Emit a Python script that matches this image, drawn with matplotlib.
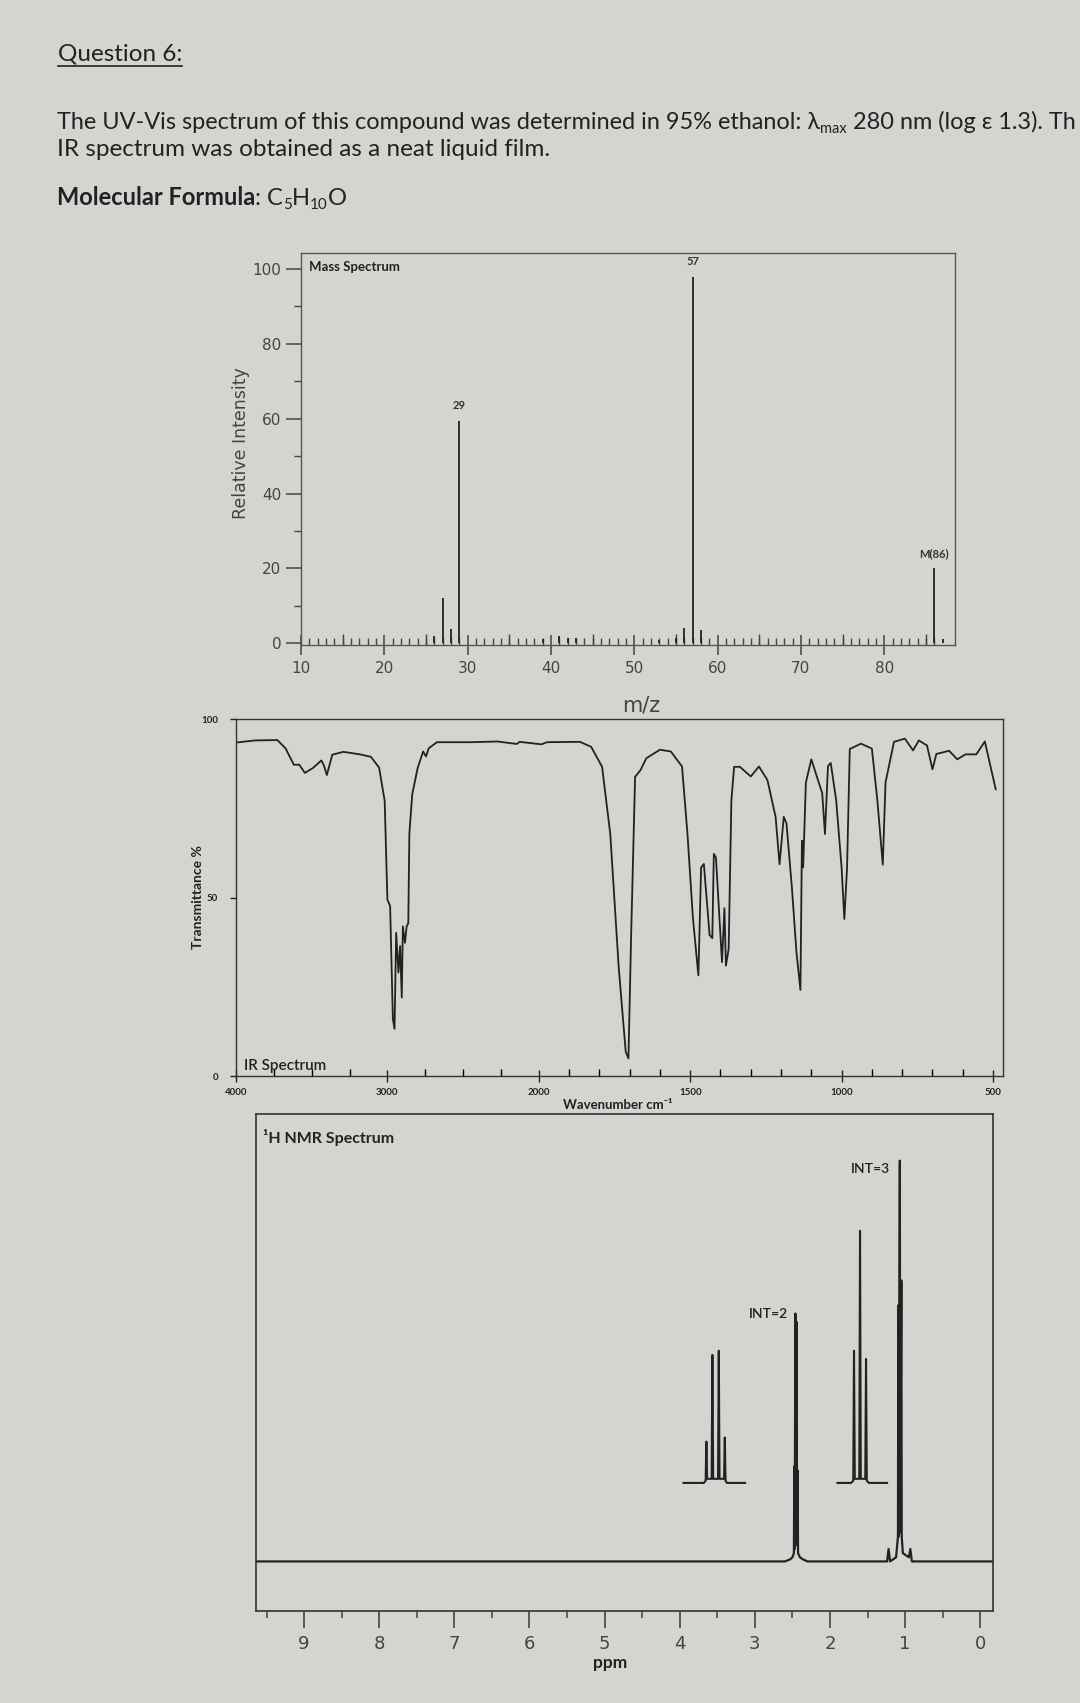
import numpy as np
import matplotlib
matplotlib.use('Agg')
import matplotlib.pyplot as plt
from matplotlib.lines import Line2D

plt.rcParams['font.family'] = ['Lato', 'DejaVu Sans']

W, H = 1080, 1703
paper = '#d6d4d1'
ink = '#222222'
grey = '#444444'

# mass spectrum (m/z, relative intensity)
ms_mz = [26, 27, 28, 29, 39, 41, 42, 43, 53, 55, 56, 57, 58, 86, 87]
ms_int = [1.9, 12.1, 3.7, 59.5, 1.2, 1.8, 1.5, 1.4, 0.8, 1.5, 4.0, 98, 3.6, 20, 1.2]
ms_lab_mz = [29, 57, 86]
ms_lab_txt = ['29', '57', 'M(86)']

# IR trace (wavenumber, %T)
ir_wn = [4000, 3873, 3727, 3673, 3618, 3582, 3545, 3491, 3436, 3418,
         3400, 3364, 3291, 3182, 3109, 3055, 3018, 3000, 2982, 2964,
         2953, 2942, 2927, 2916, 2905, 2898, 2884, 2873, 2862, 2855,
         2836, 2800, 2764, 2745, 2727, 2673, 2455, 2273, 2145, 2127,
         1991, 1973, 1864, 1827, 1791, 1764, 1736, 1713, 1704, 1695,
         1682, 1664, 1645, 1600, 1564, 1527, 1509, 1491, 1473, 1464,
         1455, 1445, 1436, 1427, 1422, 1415, 1404, 1395, 1387, 1382,
         1373, 1364, 1355, 1336, 1300, 1273, 1245, 1218, 1205, 1191,
         1182, 1164, 1149, 1136, 1131, 1127, 1118, 1100, 1064, 1055,
         1045, 1036, 1018, 1000, 991, 982, 973, 936, 900, 882,
         864, 855, 827, 791, 764, 745, 718, 700, 687, 645,
         618, 591, 555, 527, 509, 491]
ir_t = [93.4, 94.0, 94.1, 91.8, 87.2, 87.2, 84.9, 86.3, 88.4, 86.8,
        84.3, 90.0, 90.8, 90.1, 89.4, 86.4, 77.1, 49.4, 47.6, 16.0,
        13.2, 40.1, 29.0, 36.4, 22.0, 41.9, 37.3, 41.9, 42.8, 67.8,
        78.9, 86.3, 90.9, 89.5, 91.8, 93.5, 93.5, 93.7, 93.0, 93.6,
        92.9, 93.5, 93.6, 92.2, 86.6, 67.8, 30.3, 6.8, 4.9, 39.6,
        83.8, 85.7, 89.0, 91.4, 90.9, 86.7, 67.8, 44.2, 28.2, 58.4,
        59.4, 49.0, 39.5, 38.6, 62.2, 61.2, 45.1, 31.9, 47.0, 30.9,
        35.6, 77.2, 86.6, 86.6, 83.9, 86.7, 82.9, 72.6, 59.3, 72.6,
        70.7, 52.6, 34.6, 24.1, 65.9, 58.4, 82.2, 88.7, 79.2, 67.8,
        86.8, 87.7, 77.3, 58.3, 44.0, 58.3, 91.6, 93.1, 91.7, 77.3,
        59.2, 82.2, 93.6, 94.5, 91.2, 94.0, 92.6, 85.9, 90.2, 91.1,
        88.7, 90.1, 90.1, 93.7, 87.0, 80.3]
ir_major = [4000, 3000, 2000, 1500, 1000, 500]
ir_minor = [3750, 3500, 3250, 2750, 2500, 2250, 1900, 1800, 1700, 1600,
            1400, 1300, 1200, 1100, 900, 800, 700, 600]

# 1H NMR trace (ppm, intensity)
nmr_ppm = [9.64, 2.60, 2.53, 2.50, 2.48, 2.475, 2.47, 2.46, 2.455, 2.445,
           2.44, 2.43, 2.425, 2.40, 2.36, 2.30, 1.24, 1.22, 1.20, 1.12,
           1.095, 1.09, 1.085, 1.07, 1.065, 1.05, 1.045, 1.03, 0.95, 0.93,
           0.91, -0.17]
nmr_int = [0.0, 0.0, 0.005, 0.01, 0.02, 0.23, 0.03, 0.60, 0.05, 0.58,
           0.04, 0.22, 0.02, 0.01, 0.005, 0.0, 0.0, 0.03, 0.0, 0.01,
           0.06, 0.62, 0.06, 0.97, 0.07, 0.68, 0.06, 0.02, 0.01, 0.03,
           0.0, 0.0]
# expansions drawn above the baseline
q_ppm = [3.95, 3.68, 3.655, 3.645, 3.635, 3.575, 3.565, 3.555, 3.49, 3.48,
         3.47, 3.41, 3.40, 3.39, 3.37, 3.13]
q_int = [0.19, 0.19, 0.195, 0.29, 0.20, 0.20, 0.50, 0.20, 0.20, 0.51,
         0.20, 0.20, 0.30, 0.195, 0.19, 0.19]
t_ppm = [1.90, 1.72, 1.69, 1.68, 1.67, 1.61, 1.60, 1.59, 1.53, 1.52,
         1.51, 1.48, 1.24]
t_int = [0.19, 0.19, 0.195, 0.51, 0.20, 0.20, 0.80, 0.20, 0.20, 0.49,
         0.195, 0.19, 0.19]


def px_axes(left, top, right, bottom):
    a = fig.add_axes([left / W, 1 - bottom / H, (right - left) / W, (bottom - top) / H])
    a.set_facecolor('none')
    return a


def run_text(x, y, pieces):
    # writes pieces one after another on a common baseline (pixel coords)
    r = fig.canvas.get_renderer()
    for s, size, weight, dy in pieces:
        t = fig.text(x / W, 1 - (y + dy) / H, s, fontsize=size, fontweight=weight,
                     va='baseline', ha='left', color=ink)
        x += t.get_window_extent(renderer=r).width
    return x


fig = plt.figure(figsize=(W / 100, H / 100), dpi=100, facecolor=paper)

# ---- header text ----
x_end = run_text(58, 61, [('Question 6:', 17.5, 'normal', 0)])
fig.add_artist(Line2D([58 / W, x_end / W], [1 - 66 / H, 1 - 66 / H], color=ink, lw=1.2))
run_text(57, 129, [('The UV-Vis spectrum of this compound was determined in 95% ethanol: \u03bb', 16.9, 'normal', 0),
                   ('max', 10.5, 'normal', 4),
                   (' 280 nm (log \u03b5 1.3). Th', 16.9, 'normal', 0)])
run_text(57, 156, [('IR spectrum was obtained as a neat liquid film.', 17.5, 'normal', 0)])
run_text(57, 205, [('Molecular Formula', 17, 'bold', 0), (': C', 17, 'normal', 0),
                   ('5', 11, 'normal', 4), ('H', 17, 'normal', 0),
                   ('10', 11, 'normal', 4), ('O', 17, 'normal', 0)])

# ---- mass spectrum ----
ax1 = px_axes(301, 253, 955, 645)
ax1.vlines(ms_mz, 0, ms_int, color=ink, lw=1.3)
for m, s in zip(ms_lab_mz, ms_lab_txt):
    ax1.text(m, ms_int[ms_mz.index(m)] + 2.5, s, ha='center', va='bottom',
             fontsize=8, fontweight='bold', color='#333333')
ax1.set_xlim(10, 88.5)
ax1.set_ylim(-0.5, 104.3)
ax1.set_xticks(range(10, 90, 10))
ax1.set_xticks(range(10, 87), minor=True)
ax1.set_yticks(range(0, 120, 20))
ax1.set_yticks(range(10, 100, 20), minor=True)
ax1.tick_params(axis='x', which='major', direction='inout', length=15, width=1.1,
                labelsize=11, pad=4, colors=grey, labelfontfamily='DejaVu Sans')
ax1.tick_params(axis='x', which='minor', direction='in', length=5, width=1.0, colors=grey)
ax1.tick_params(axis='y', which='major', direction='out', length=11, width=1.1,
                labelsize=11, pad=3, colors=grey, labelfontfamily='DejaVu Sans')
ax1.tick_params(axis='y', which='minor', direction='out', length=5, width=1.0, colors=grey)
sec = ax1.secondary_xaxis('bottom')
sec.set_xticks(range(15, 90, 10))
sec.tick_params(direction='in', length=8, width=1.0, labelbottom=False, colors=grey)
for sp in sec.spines.values():
    sp.set_visible(False)
for sp in ax1.spines.values():
    sp.set_color('#555555')
    sp.set_linewidth(1.0)
ax1.text(0.012, 0.965, 'Mass Spectrum', transform=ax1.transAxes, fontsize=9.5,
         fontweight='bold', ha='left', va='center', color=ink)
ax1.text(-0.092, 0.515, 'Relative Intensity', transform=ax1.transAxes, rotation=90,
         fontsize=12.5, family='DejaVu Sans', color=grey, ha='center', va='center')
ax1.text(0.52, -0.155, 'm/z', transform=ax1.transAxes, fontsize=15,
         family='DejaVu Sans', color=grey, ha='center', va='center')


# ---- IR spectrum ----
def ir_fwd(w):
    w = np.asarray(w, dtype=float)
    return np.where(w >= 2000, -(4000 - w) / 1000, -(2 + (2000 - w) / 500))


def ir_inv(u):
    u = -np.asarray(u, dtype=float)
    return np.where(u <= 2, 4000 - 1000 * u, 2000 - 500 * (u - 2))


ax2 = px_axes(236, 719, 1003, 1076)
ax2.set_xscale('function', functions=(ir_fwd, ir_inv))
ax2.plot(ir_wn, ir_t, color=ink, lw=1.3)
ax2.set_xlim(4000, 467)
ax2.set_ylim(0, 100)
ax2.set_xticks(ir_major)
ax2.set_xticklabels([str(v) for v in ir_major])
ax2.set_xticks(ir_minor, minor=True)
ax2.set_yticks([0, 50, 100])
ax2.set_yticklabels(['0', '50', '100'])
ax2.tick_params(axis='x', which='major', direction='inout', length=9, width=1.0,
                labelsize=7, pad=4, colors=ink)
ax2.tick_params(axis='x', which='minor', direction='in', length=5, width=1.0)
ax2.tick_params(axis='y', direction='out', length=4, width=1.0, labelsize=7, pad=9, colors=ink)
for lab in ax2.get_xticklabels() + ax2.get_yticklabels():
    lab.set_fontweight('bold')
for sp in ax2.spines.values():
    sp.set_color('#333333')
    sp.set_linewidth(1.0)
ax2.text(0.0104, 0.008, 'IR Spectrum', transform=ax2.transAxes, fontsize=11,
         fontweight='semibold', ha='left', va='bottom', color=ink)
ax2.text(0.497, -0.08, 'Wavenumber cm\u207b\u00b9', transform=ax2.transAxes, fontsize=9.5,
         fontweight='bold', ha='center', va='center', color=ink)
ax2.text(-0.049, 0.5, 'Transmittance %', transform=ax2.transAxes, fontsize=10,
         fontweight='bold', rotation=90, ha='center', va='center', color=ink)

# ---- 1H NMR spectrum ----
ax3 = px_axes(256, 1114, 993, 1611)
ax3.plot(nmr_ppm, nmr_int, color=ink, lw=1.6)
ax3.plot(q_ppm, q_int, color=ink, lw=1.5)
ax3.plot(t_ppm, t_int, color=ink, lw=1.5)
ax3.set_xlim(9.64, -0.17)
ax3.set_ylim(-0.12, 1.083)
ax3.set_xticks(range(0, 10))
ax3.set_xticks(np.arange(0.5, 9.6, 1.0), minor=True)
ax3.set_yticks([])
ax3.tick_params(axis='x', which='major', direction='out', length=12, width=1.2,
                labelsize=13, pad=5, colors=grey, labelfontfamily='DejaVu Sans')
ax3.tick_params(axis='x', which='minor', direction='out', length=5, width=1.1, colors=grey)
for sp in ax3.spines.values():
    sp.set_color('#333333')
    sp.set_linewidth(1.2)
ax3.text(0.0095, 0.952, '\u00b9H NMR Spectrum', transform=ax3.transAxes, fontsize=11.5,
         fontweight='bold', ha='left', va='center', color=ink)
ax3.text(2.56, 0.60, 'INT=2', fontsize=10, fontweight='semibold', ha='right', va='center', color=ink)
ax3.text(1.20, 0.95, 'INT=3', fontsize=10, fontweight='semibold', ha='right', va='center', color=ink)
ax3.set_xlabel('ppm', fontsize=12.5, fontweight='bold', color=ink)
ax3.xaxis.set_label_coords(0.48, -0.088)

fig.savefig('out.png', dpi=100, facecolor=paper)
